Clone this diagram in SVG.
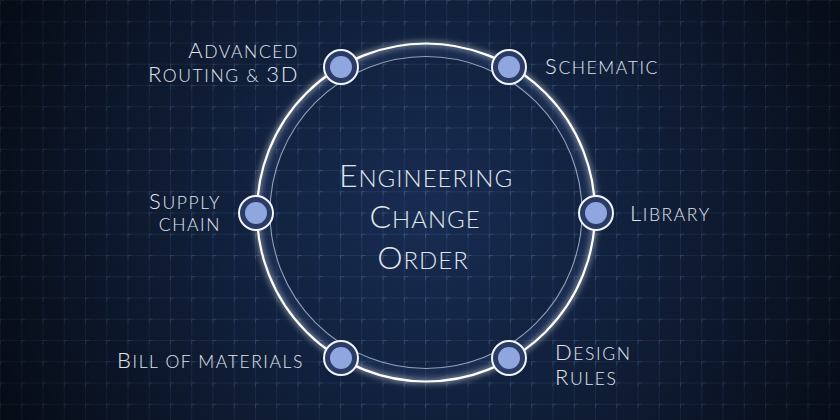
<svg xmlns="http://www.w3.org/2000/svg" width="840" height="420" viewBox="0 0 840 420">
<defs>
<radialGradient id="bg" cx="426" cy="212" r="480" gradientUnits="userSpaceOnUse">
<stop offset="0" stop-color="#182c52"/>
<stop offset="0.4" stop-color="#11213d"/>
<stop offset="0.75" stop-color="#0b1425"/>
<stop offset="1" stop-color="#060b14"/>
</radialGradient>
<radialGradient id="fade" cx="426" cy="212" r="480" gradientUnits="userSpaceOnUse">
<stop offset="0" stop-color="#fff"/>
<stop offset="0.5" stop-color="#fff" stop-opacity="0.8"/>
<stop offset="1" stop-color="#fff" stop-opacity="0.35"/>
</radialGradient>
<mask id="m"><rect width="840" height="420" fill="url(#fade)"/></mask>
<pattern id="grid" x="0" y="0" width="21.25" height="21.25" patternUnits="userSpaceOnUse">
<path d="M0.5 0V21.25M0 0.5H21.25" stroke="#4f73b3" stroke-opacity="0.2" stroke-width="1" fill="none"/>
<path d="M-3 0.5H4M0.5 -3V4" stroke="#8fb0e8" stroke-opacity="0.22" stroke-width="1"/>
</pattern>
<filter id="glow" x="-20%" y="-20%" width="140%" height="140%">
<feGaussianBlur stdDeviation="3" result="b"/>
<feMerge><feMergeNode in="b"/><feMergeNode in="SourceGraphic"/></feMerge>
</filter>
<g id="node">
<circle r="17" fill="#2a3b66" stroke="#f2f5fb" stroke-width="2"/>
<circle r="11" fill="#8fa6de"/>
</g>
</defs>
<style>
text{font-family:Lato,"Open Sans","Liberation Sans",sans-serif;font-weight:300;fill:#e1e6ee;letter-spacing:1.6px}
.c{font-size:32px}
.cs{font-size:24px}
.l{font-size:22px}
.ls{font-size:17.5px}
.center{letter-spacing:1px}
</style>
<rect width="840" height="420" fill="url(#bg)"/>
<rect width="840" height="420" fill="url(#grid)" mask="url(#m)"/>
<g id="connectors">
<circle cx="426" cy="212.5" r="162.5" fill="none" stroke="#3c5a90" stroke-opacity="0.18" stroke-width="12"/>
<circle cx="426" cy="212.5" r="169" fill="none" stroke="#ffffff" stroke-width="2.2" filter="url(#glow)"/>
<circle cx="426" cy="212.5" r="156" fill="none" stroke="#c6d3ea" stroke-opacity="0.7" stroke-width="1.1"/>
</g>
<g id="node-routing"><use href="#node" x="341" y="67"/>
<text text-anchor="end" x="299" y="58"><tspan class="l">A</tspan><tspan class="ls">DVANCED</tspan></text>
<text text-anchor="end" x="299" y="82"><tspan class="l">R</tspan><tspan class="ls">OUTING &amp; </tspan><tspan class="l">3D</tspan></text></g>
<g id="node-schematic"><use href="#node" x="509" y="67"/>
<text x="545" y="74"><tspan class="l">S</tspan><tspan class="ls">CHEMATIC</tspan></text></g>
<g id="node-supply"><use href="#node" x="256" y="213"/>
<text text-anchor="end" x="221" y="209"><tspan class="l">S</tspan><tspan class="ls">UPPLY</tspan></text>
<text text-anchor="end" x="221" y="231" class="ls">CHAIN</text></g>
<g id="node-library"><use href="#node" x="596" y="213"/>
<text x="630" y="221"><tspan class="l">L</tspan><tspan class="ls">IBRARY</tspan></text></g>
<g id="node-bom"><use href="#node" x="341" y="358"/>
<text text-anchor="end" x="304" y="368"><tspan class="l">B</tspan><tspan class="ls">ILL OF MATERIALS</tspan></text></g>
<g id="node-rules"><use href="#node" x="509" y="358"/>
<text x="555" y="360"><tspan class="l">D</tspan><tspan class="ls">ESIGN</tspan></text>
<text x="555" y="385"><tspan class="l">R</tspan><tspan class="ls">ULES</tspan></text></g>
<g id="center-label">
<text class="center" text-anchor="middle" x="426" y="187"><tspan class="c">E</tspan><tspan class="cs">NGINEERING</tspan></text>
<text class="center" text-anchor="middle" x="425" y="228"><tspan class="c">C</tspan><tspan class="cs">HANGE</tspan></text>
<text class="center" text-anchor="middle" x="423" y="269"><tspan class="c">O</tspan><tspan class="cs">RDER</tspan></text>
</g>
</svg>
